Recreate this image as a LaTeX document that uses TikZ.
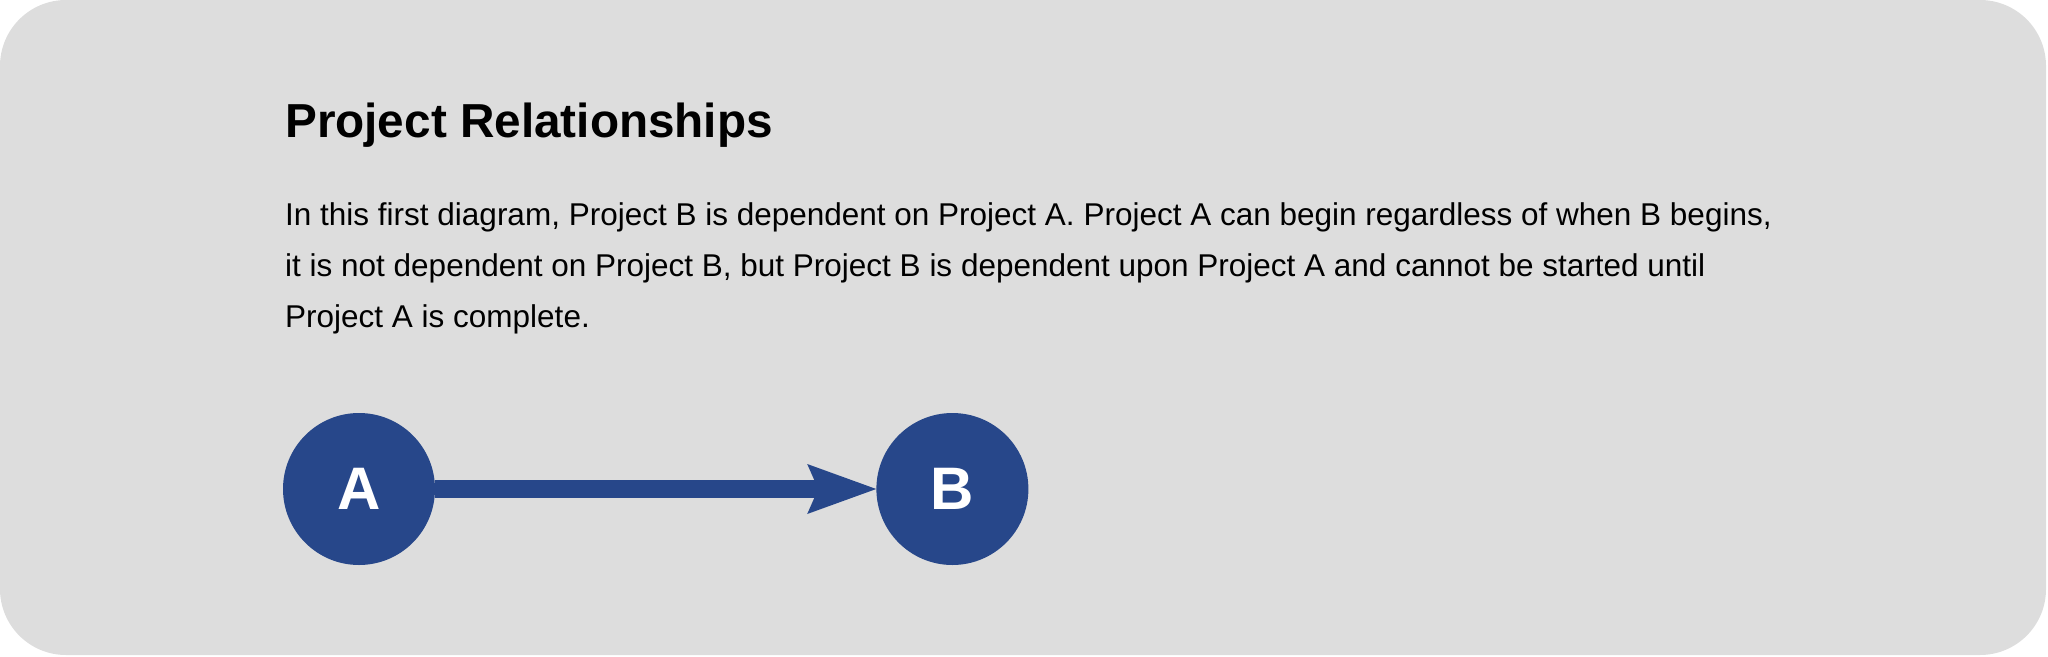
\documentclass[tikz,border=0pt]{standalone}
\usepackage{fontspec}
\setmainfont{Liberation Sans}
\usepackage{tikz}
\usetikzlibrary{arrows.meta, positioning}

\definecolor{panelgrey}{RGB}{221,221,221}
\definecolor{projblue}{RGB}{39,71,138}

\tikzset{
    project/.style={circle, fill=projblue, minimum size=152pt, inner sep=0pt,
        text=white, font=\fontsize{60}{60}\selectfont\bfseries},
    depends/.style={draw=projblue, line width=18pt,
        -{Stealth[length=69pt, width=50pt, inset=11pt, line width=0pt]}},
}

\begin{document}
\begin{tikzpicture}[x=1pt, y=1pt]
\useasboundingbox (0,0) rectangle (2048,-656);
\fill[panelgrey, rounded corners=66pt] (0,0) rectangle (2046,-655);

\node[anchor=base west, inner sep=0pt, font=\fontsize{47.7}{50}\selectfont\bfseries]
    (title) at (285,-137) {Project Relationships};
% base anchor = baseline of the last line
\node[anchor=base west, inner sep=0pt, align=left,
    font=\fontsize{31.5}{51}\selectfont] (desc) at (285,-327)
    {In this first diagram, Project B is dependent on Project A. Project A can begin regardless of when B begins,\\
     it is not dependent on Project B, but Project B is dependent upon Project A and cannot be started until\\
     Project A is complete.};

\node[project] (a) at (359,-489) {A};
\node[project, right=441pt of a] (b) {B};
\draw[depends] (a) -- (b);
\end{tikzpicture}
\end{document}
